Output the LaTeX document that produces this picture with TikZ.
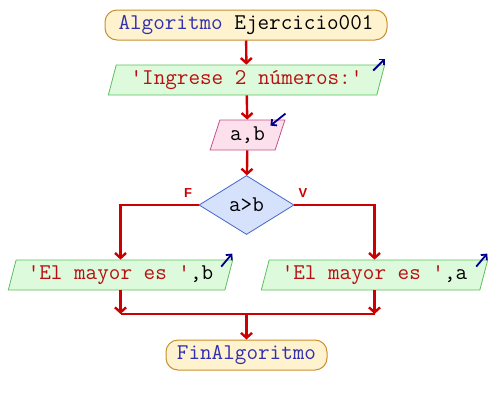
\documentclass[tikz,border=0pt]{standalone}
\usepackage{fontspec}
\setsansfont{Liberation Sans}
\definecolor{pfRed}{HTML}{CC0000}
\definecolor{pfStr}{HTML}{B81010}
\definecolor{pfKey}{HTML}{3030B0}
\definecolor{pfBlue}{HTML}{00008B}
\definecolor{pfTermFill}{HTML}{FFF2CE}
\definecolor{pfTermLine}{HTML}{C8902E}
\definecolor{pfOutFill}{HTML}{DDFADD}
\definecolor{pfOutLine}{HTML}{5CBF5C}
\definecolor{pfInFill}{HTML}{FCE0EC}
\definecolor{pfInLine}{HTML}{C8508A}
\definecolor{pfCondFill}{HTML}{D6E2FC}
\definecolor{pfCondLine}{HTML}{4466CC}
\usetikzlibrary{calc,arrows.meta,shapes.geometric}

\begin{document}
\begin{tikzpicture}[x=1pt, y=-1pt,
  txt/.style={font=\ttfamily\fontsize{22.5}{24}\selectfont},
  term/.style={txt, draw=pfTermLine, fill=pfTermFill, rounded corners=12pt, minimum height=30pt, inner sep=0pt, line width=1pt},
  ioshape/.style={txt, trapezium, trapezium left angle=70, trapezium right angle=110, trapezium stretches=true, minimum height=30pt, inner sep=0pt, line width=0.8pt},
  outbox/.style={ioshape, draw=pfOutLine, fill=pfOutFill},
  inbox/.style={ioshape, draw=pfInLine, fill=pfInFill},
  cond/.style={txt, diamond, aspect=1.6, draw=pfCondLine, fill=pfCondFill, minimum width=95pt, minimum height=59pt, inner sep=0pt, line width=0.8pt},
  flow/.style={pfRed, line width=2.4pt, -{Straight Barb[length=5pt,width=11pt]}},
  ioarrow/.style={pfBlue, line width=1.8pt, -{Straight Barb[length=4pt,width=8pt]}},
  lbl/.style={font=\sffamily\bfseries\fontsize{13}{15}\selectfont, text=pfRed}]
  \useasboundingbox (0,0) rectangle (492,405);

  % Shapes
  \node[term, minimum width=282pt] (start) at (246,25) {\textcolor{pfKey}{Algoritmo} Ejercicio001};
  \node[outbox, minimum width=277pt] (ingrese) at (246.5,80) {\textcolor{pfStr}{'Ingrese 2 números:'}};
  \node[inbox, minimum width=75pt] (leer) at (247.5,135) {a,b};
  \node[cond] (cmp) at (246.5,205) {a>b};
  \node[outbox, minimum width=225pt] (outF) at (120.5,275) {\textcolor{pfStr}{'El mayor es '},b};
  \node[outbox, minimum width=227pt] (outV) at (374.5,275) {\textcolor{pfStr}{'El mayor es '},a};
  \node[term, minimum width=161pt] (fin) at (246.5,355) {\textcolor{pfKey}{FinAlgoritmo}};

  % Branch labels
  \node[lbl] (lblF) at (188,193) {F};
  \node[lbl] (lblV) at (303,193) {V};

  % Join points
  \coordinate (joinM) at (246.5,314);
  \coordinate (joinL) at (outF.south |- joinM);
  \coordinate (joinR) at (outV.south |- joinM);

  % Flow
  \draw[flow] (start) -- (ingrese);
  \draw[flow] (ingrese) -- (leer);
  \draw[flow] (leer) -- (cmp);
  \draw[flow] (cmp.west) -| (outF.north);
  \draw[flow] (cmp.east) -| (outV.north);
  \draw[flow] (outF.south) -- (joinL);
  \draw[flow] (outV.south) -- (joinR);
  \draw[pfRed, line width=2.4pt] (joinL) -- (joinR);
  \draw[flow] (joinM) -- (fin);

  % In/out marks
  \draw[ioarrow] ($(ingrese.top right corner)+(-12,6)$) -- ++(12,-12);
  \draw[ioarrow] ($(leer.top right corner)+(0,-6)$) -- ++(-15,12);
  \draw[ioarrow] ($(outF.top right corner)+(-12,7)$) -- ++(11,-13);
  \draw[ioarrow] ($(outV.top right corner)+(-12,7)$) -- ++(11,-13);
\end{tikzpicture}
\end{document}
